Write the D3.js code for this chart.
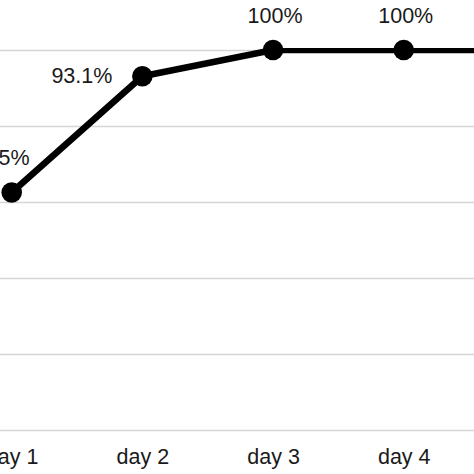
<!DOCTYPE html>
<html>
<head>
<meta charset="utf-8">
<script src="https://cdn.jsdelivr.net/npm/d3@7/dist/d3.min.js"></script>
<style>
  html, body { margin: 0; padding: 0; background: #fff; }
  svg { display: block; }
</style>
</head>
<body>
<svg id="chart" width="474" height="474"></svg>
<script>
const days = ["day 1", "day 2", "day 3", "day 4", "day 5"];
const values = [62.5, 93.1, 100, 100, 100];
const valueLabels = ["62.5%", "93.1%", "100%", "100%", "100%"];
const yTicks = [0, 20, 40, 60, 80, 100];

const W = 474, H = 474;
const svg = d3.select("#chart");
const font = "Liberation Sans, Arial, sans-serif";

const x = d3.scalePoint().domain(days).range([11.7, 534.4]);
const y = d3.scaleLinear().domain([0, 100]).range([430, 50]);

// gridlines
svg.append("g")
  .selectAll("line")
  .data(yTicks)
  .join("line")
  .attr("x1", 0).attr("x2", W)
  .attr("y1", d => Math.round(y(d)) + 0.5)
  .attr("y2", d => Math.round(y(d)) + 0.5)
  .attr("stroke", "#d6d6d6")
  .attr("stroke-width", 1.5);

// clip for the line (chart area top)
svg.append("defs").append("clipPath").attr("id", "area")
  .append("rect").attr("x", -100).attr("y", y(100) - 2).attr("width", 800).attr("height", 500);

const line = d3.line().x((d, i) => x(days[i])).y(d => y(d));

svg.append("path")
  .datum(values)
  .attr("d", line)
  .attr("fill", "none")
  .attr("stroke", "#000")
  .attr("stroke-width", 6.5)
  .attr("stroke-linejoin", "round")
  .attr("clip-path", "url(#area)");

svg.append("g")
  .selectAll("circle")
  .data(values)
  .join("circle")
  .attr("cx", (d, i) => x(days[i]))
  .attr("cy", d => y(d))
  .attr("r", 10.3)
  .attr("fill", "#000");

// data labels (only those whose point lies inside the visible window)
function labelPos(i, d) {
  const px = x(days[i]), py = y(d);
  if (i === 0) return { x: px + 18, y: py - 28, anchor: "end" };
  if (i === 1) return { x: px - 30, y: py + 7, anchor: "end" };
  return { x: px + 2, y: py - 27, anchor: "middle" };
}
const visible = values.map((d, i) => i).filter(i => x(days[i]) <= W);
svg.append("g")
  .selectAll("text")
  .data(visible)
  .join("text")
  .each(function (i) {
    const p = labelPos(i, values[i]);
    d3.select(this)
      .attr("x", p.x).attr("y", p.y)
      .attr("text-anchor", p.anchor);
  })
  .attr("font-family", font)
  .attr("font-size", 21.5)
  .attr("fill", "#1a1a1a")
  .text(i => valueLabels[i]);

// x axis labels
const xAxis = d3.axisBottom(x).tickSize(0).tickPadding(0)
  .tickValues(days.filter(dd => x(dd) <= W));
const gx = svg.append("g").attr("transform", "translate(0,447)").call(xAxis);
gx.select(".domain").remove();
gx.selectAll("text")
  .attr("font-family", font)
  .attr("font-size", 21.5)
  .attr("fill", "#1a1a1a")
  .attr("dy", "0.8em");
</script>
</body>
</html>
